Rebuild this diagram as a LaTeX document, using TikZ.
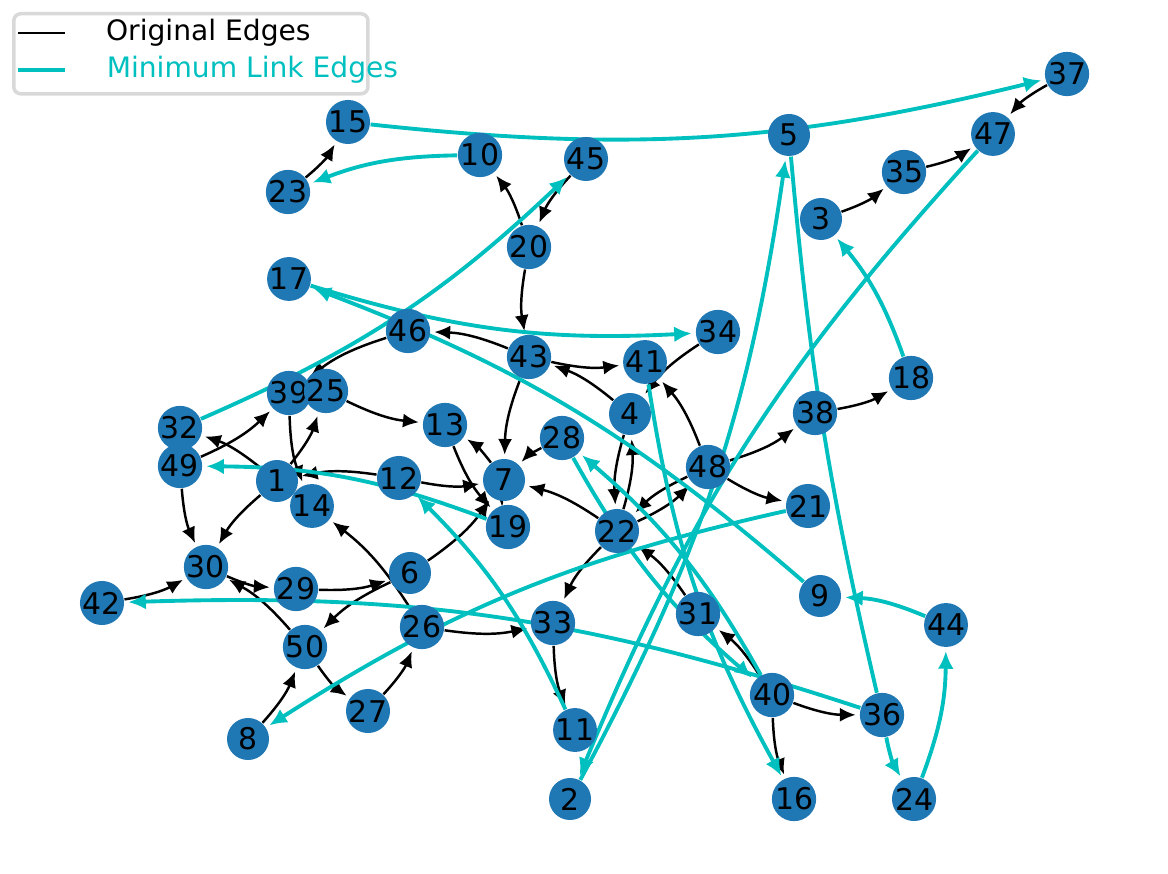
\documentclass[tikz,border=0pt]{standalone}
\usepackage{fontspec}
\setmainfont{DejaVu Sans}
\usetikzlibrary{arrows.meta, backgrounds}
\definecolor{nodeblue}{RGB}{31,119,180}
\definecolor{linkcyan}{RGB}{0,191,191}

\begin{document}
\begin{tikzpicture}[
    x=0.01cm, y=-0.01cm,
    vert/.style = {circle, fill=nodeblue, minimum size=0.42cm, inner sep=0pt, font=\fontsize{8.5}{9}\selectfont},
    pil/.style = {black, line width=0.7pt, -{Latex[length=4.5pt,width=4pt]}, bend right=10, shorten >=1pt},
    link/.style = {linkcyan, line width=1.1pt, -{Latex[length=5pt,width=4.5pt]}, bend right=10, shorten >=1pt},
    ]
  \useasboundingbox (0,0) rectangle (1168,874);

  \node[vert] (n37) at (1067,74) {37};
  \node[vert] (n15) at (348,122) {15};
  \node[vert] (n5) at (789,135) {5};
  \node[vert] (n47) at (993,134) {47};
  \node[vert] (n10) at (480,155) {10};
  \node[vert] (n45) at (586,159) {45};
  \node[vert] (n35) at (904,172) {35};
  \node[vert] (n23) at (288,192) {23};
  \node[vert] (n3) at (821,219) {3};
  \node[vert] (n20) at (529,247) {20};
  \node[vert] (n17) at (289,279) {17};
  \node[vert] (n34) at (718,332) {34};
  \node[vert] (n46) at (408,331) {46};
  \node[vert] (n43) at (529,357) {43};
  \node[vert] (n41) at (645,362) {41};
  \node[vert] (n18) at (911,378) {18};
  \node[vert] (n39) at (289,393) {39};
  \node[vert] (n25) at (326,391) {25};
  \node[vert] (n38) at (815,413) {38};
  \node[vert] (n13) at (445,425) {13};
  \node[vert] (n4) at (630,414) {4};
  \node[vert] (n32) at (180,428) {32};
  \node[vert] (n28) at (562,438) {28};
  \node[vert] (n48) at (708,467) {48};
  \node[vert] (n49) at (180,466) {49};
  \node[vert] (n1) at (277,481) {1};
  \node[vert] (n12) at (399,478) {12};
  \node[vert] (n7) at (504,480) {7};
  \node[vert] (n21) at (808,506) {21};
  \node[vert] (n14) at (312,506) {14};
  \node[vert] (n19) at (508,527) {19};
  \node[vert] (n22) at (617,531) {22};
  \node[vert] (n30) at (206,567) {30};
  \node[vert] (n6) at (410,573) {6};
  \node[vert] (n29) at (296,589) {29};
  \node[vert] (n9) at (820,596) {9};
  \node[vert] (n42) at (102,603) {42};
  \node[vert] (n44) at (946,625) {44};
  \node[vert] (n26) at (422,627) {26};
  \node[vert] (n33) at (553,623) {33};
  \node[vert] (n31) at (698,614) {31};
  \node[vert] (n50) at (305,647) {50};
  \node[vert] (n40) at (772,695) {40};
  \node[vert] (n36) at (882,715) {36};
  \node[vert] (n27) at (368,711) {27};
  \node[vert] (n11) at (575,730) {11};
  \node[vert] (n8) at (248,739) {8};
  \node[vert] (n2) at (570,799) {2};
  \node[vert] (n16) at (794,799) {16};
  \node[vert] (n24) at (914,799) {24};

  \begin{scope}[on background layer]
  \draw[pil]
  (n37) edge (n47)
  (n23) edge (n15)
  (n20) edge (n10)
  (n45) edge (n20)
  (n20) edge (n43)
  (n3) edge (n35)
  (n35) edge (n47)
  (n43) edge (n46)
  (n43) edge (n41)
  (n43) edge (n7)
  (n46) edge (n39)
  (n4) edge (n43)
  (n34) edge (n4)
  (n4) edge (n22)
  (n22) edge (n4)
  (n48) edge (n41)
  (n48) edge (n38)
  (n38) edge (n18)
  (n48) edge (n21)
  (n48) edge (n22)
  (n22) edge (n48)
  (n22) edge (n7)
  (n22) edge (n33)
  (n31) edge (n22)
  (n40) edge (n31)
  (n40) edge (n16)
  (n40) edge (n36)
  (n28) edge (n7)
  (n7) edge (n13)
  (n7) edge (n19)
  (n13) edge (n19)
  (n12) edge (n7)
  (n12) edge (n1)
  (n25) edge (n13)
  (n1) edge (n25)
  (n1) edge (n32)
  (n1) edge (n30)
  (n49) edge (n39)
  (n49) edge (n30)
  (n39) edge (n14)
  (n6) edge (n7)
  (n26) edge (n14)
  (n42) edge (n30)
  (n30) edge (n29)
  (n50) edge (n30)
  (n29) edge (n6)
  (n6) edge (n50)
  (n26) edge (n33)
  (n27) edge (n26)
  (n50) edge (n27)
  (n8) edge (n50)
  (n33) edge (n11);

  \draw[link]
  (n15) edge (n37)
  (n10) edge (n23)
  (n32) edge (n45)
  (n2) edge (n5)
  (n47) edge (n2)
  (n18) edge (n3)
  (n17) edge (n34)
  (n9) edge (n17)
  (n19) edge (n49)
  (n11) edge (n12)
  (n21) edge (n8)
  (n36) edge (n42)
  (n28) edge (n40)
  (n40) edge (n28)
  (n41) edge (n16)
  (n36) edge (n24)
  (n24) edge (n44)
  (n44) edge (n9);
  \draw[linkcyan, line width=1.1pt] (n5) to[bend right=4] (n36);
  \end{scope}

  % legend
  \node[draw=black!15, line width=1pt, rounded corners=2pt, minimum width=3.54cm, minimum height=0.8cm, anchor=north west] (key) at (12,12) {};
  \coordinate (ka) at (18,33);
  \coordinate (kb) at (18,70);
  \draw[black, line width=0.7pt] (ka) -- ++(47,0) node[right=8pt, font=\fontsize{8}{9}\selectfont] (korig) {Original Edges};
  \draw[linkcyan, line width=1.1pt] (kb) -- ++(47,0) node[right=8pt, font=\fontsize{8}{9}\selectfont] (klink) {Minimum Link Edges};
\end{tikzpicture}
\end{document}
